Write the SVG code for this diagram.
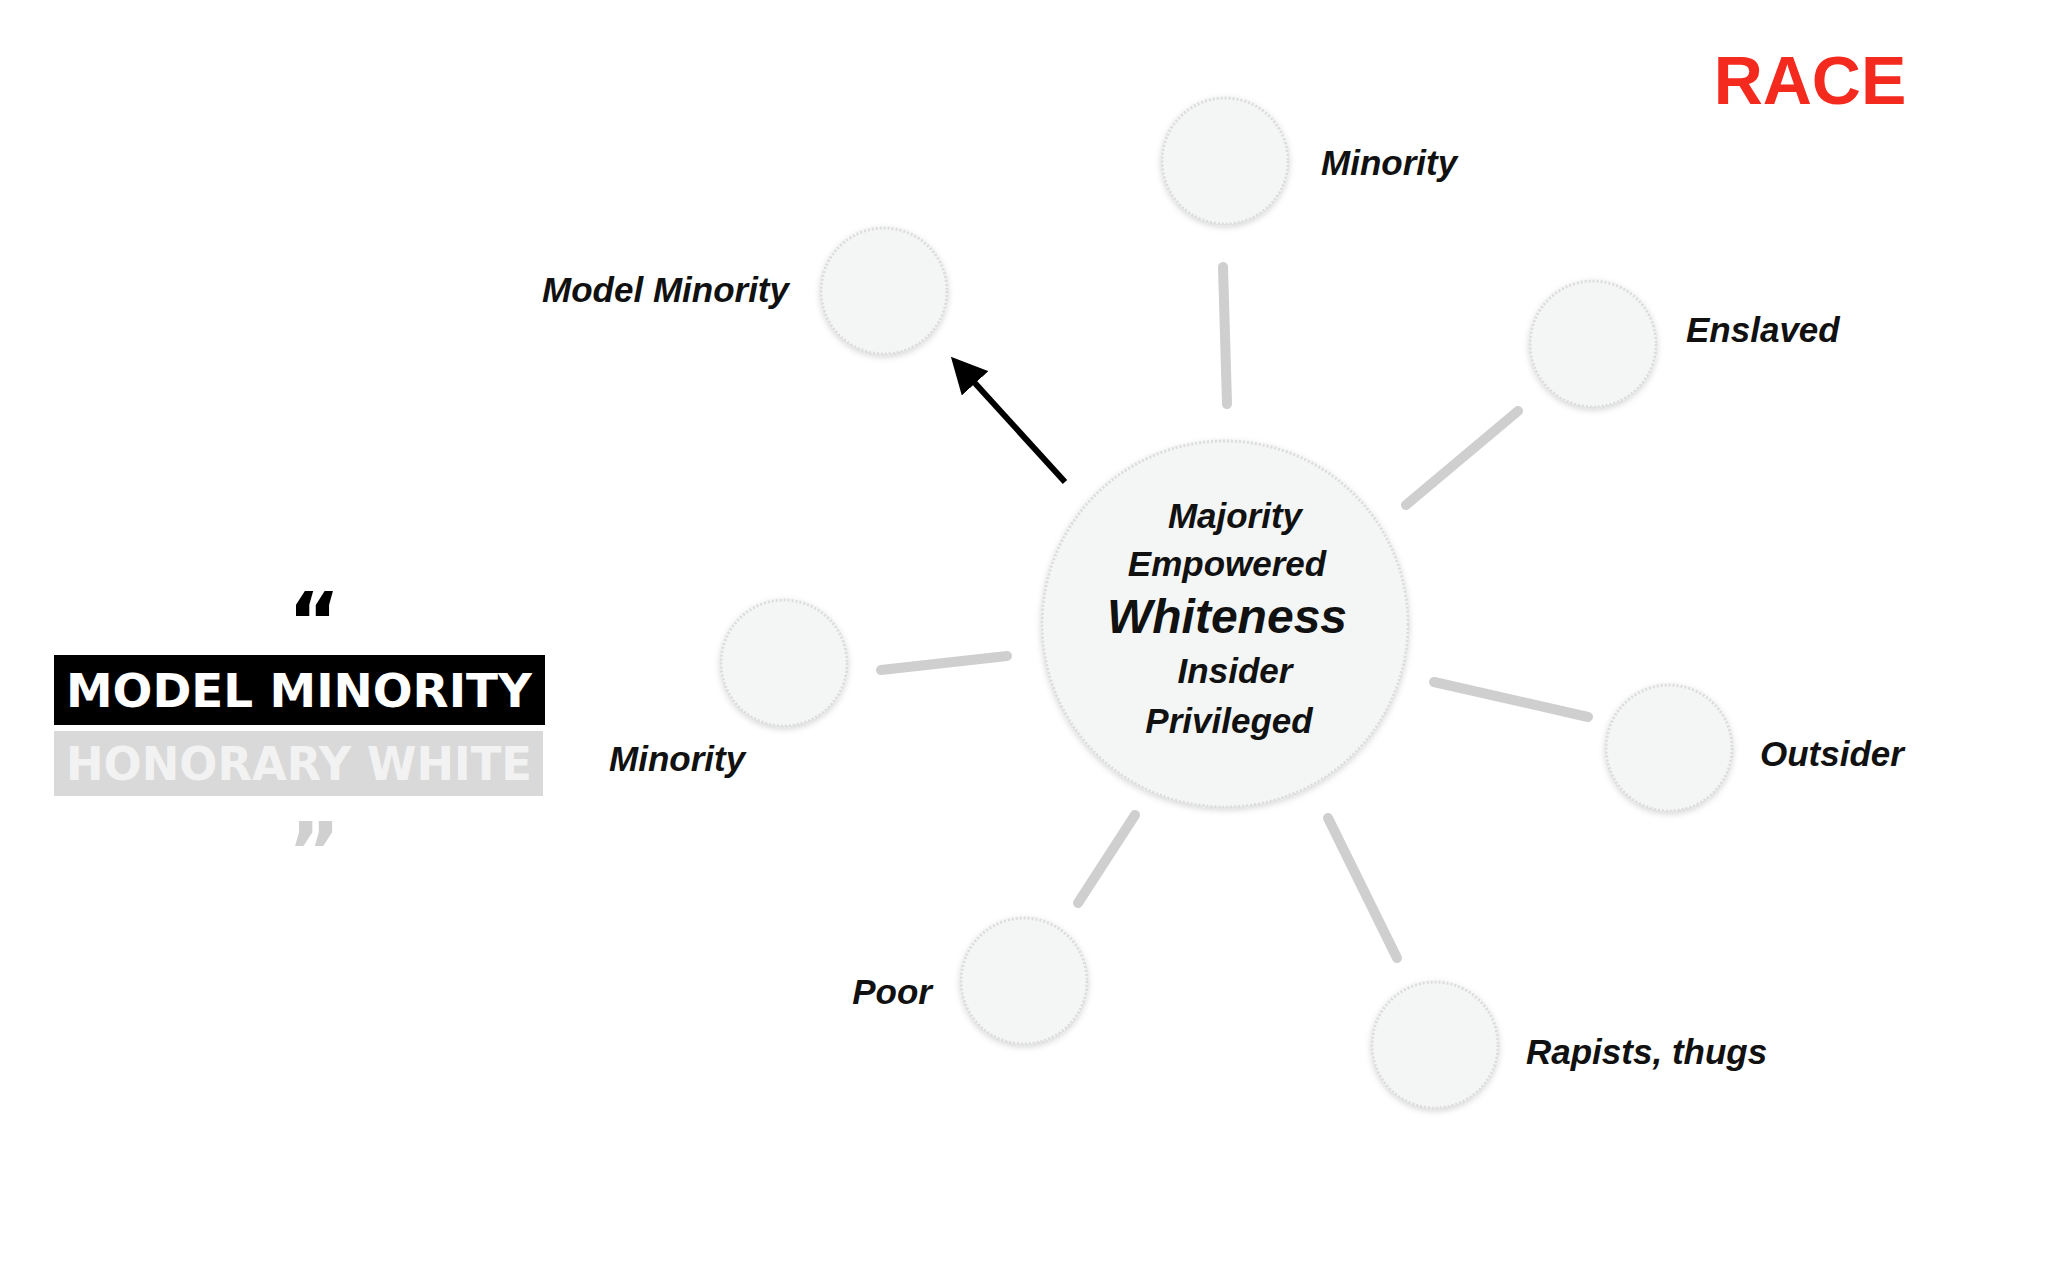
<svg xmlns="http://www.w3.org/2000/svg" width="2048" height="1280" viewBox="0 0 2048 1280">
<style>
.n{fill:#f4f6f6;stroke:#dcdcdc;stroke-width:3;stroke-dasharray:2 2}
.l{font-family:"Liberation Sans",Arial,sans-serif;font-weight:bold;font-style:italic;font-size:35px;fill:#111}
.c{stroke:#cfcfcf;stroke-width:10;stroke-linecap:round;fill:none}
</style>
<defs><filter id="sh" x="-20%" y="-20%" width="140%" height="140%"><feDropShadow dx="0" dy="2" stdDeviation="3" flood-color="#000" flood-opacity="0.18"/></filter>
<marker id="ah" markerWidth="6" markerHeight="6" refX="3" refY="3" orient="auto"><path d="M0,0 L6,3 L0,6 Z" fill="#000"/></marker></defs>
<rect width="2048" height="1280" fill="#fff"/>
<text x="1810" y="104" text-anchor="middle" font-family="Liberation Sans,Arial,sans-serif" font-weight="bold" font-size="68" fill="#f42a1e">RACE</text>
<g transform="translate(-5,0)">
<g id="connectors">
<line class="c" x1="1228" y1="267" x2="1232" y2="404"/>
<line class="c" x1="1523" y1="411" x2="1411" y2="505"/>
<line class="c" x1="886" y1="670" x2="1012" y2="656"/>
<line class="c" x1="1439" y1="682" x2="1593" y2="717"/>
<line class="c" x1="1140" y1="815" x2="1083" y2="903"/>
<line class="c" x1="1333" y1="818" x2="1402" y2="958"/>
<line x1="1070" y1="482" x2="968" y2="370" stroke="#000" stroke-width="6" marker-end="url(#ah)"/>
</g>
<g id="center"><circle class="n" filter="url(#sh)" cx="1230" cy="624" r="183"/>
<g class="l" text-anchor="middle"><text x="1240" y="528">Majority</text><text x="1232" y="576">Empowered</text><text x="1232" y="633" font-size="48">Whiteness</text><text x="1240" y="683">Insider</text><text x="1234" y="733">Privileged</text></g></g>
<g id="n-minority-top"><circle class="n" filter="url(#sh)" cx="1230" cy="161" r="63"/><text class="l" x="1326" y="175">Minority</text></g>
<g id="n-model"><circle class="n" filter="url(#sh)" cx="889" cy="291" r="63"/><text class="l" x="794" y="302" text-anchor="end">Model Minority</text></g>
<g id="n-enslaved"><circle class="n" filter="url(#sh)" cx="1598" cy="344" r="63"/><text class="l" x="1691" y="342">Enslaved</text></g>
<g id="n-minority-left"><circle class="n" filter="url(#sh)" cx="789" cy="663" r="63"/><text class="l" x="614" y="771">Minority</text></g>
<g id="n-outsider"><circle class="n" filter="url(#sh)" cx="1674" cy="748" r="63"/><text class="l" x="1765" y="766">Outsider</text></g>
<g id="n-poor"><circle class="n" filter="url(#sh)" cx="1029" cy="981" r="63"/><text class="l" x="937" y="1004" text-anchor="end">Poor</text></g>
<g id="n-rapists"><circle class="n" filter="url(#sh)" cx="1440" cy="1045" r="63"/><text class="l" x="1531" y="1064">Rapists, thugs</text></g>
</g>
<g id="quote" font-family="DejaVu Sans,sans-serif" font-weight="bold">
<text x="314" y="650" text-anchor="middle" font-size="80" fill="#000">“</text>
<rect x="54" y="655" width="491" height="70" fill="#000"/>
<text x="66" y="707" font-size="46" fill="#fff" textLength="466" lengthAdjust="spacingAndGlyphs">MODEL MINORITY</text>
<rect x="54" y="731" width="489" height="65" fill="#d9d9d9"/>
<text x="66" y="780" font-size="46" fill="#f2f2f2" textLength="466" lengthAdjust="spacingAndGlyphs">HONORARY WHITE</text>
<text x="314" y="880" text-anchor="middle" font-size="80" fill="#d0d0d0">”</text>
</g>
</svg>
